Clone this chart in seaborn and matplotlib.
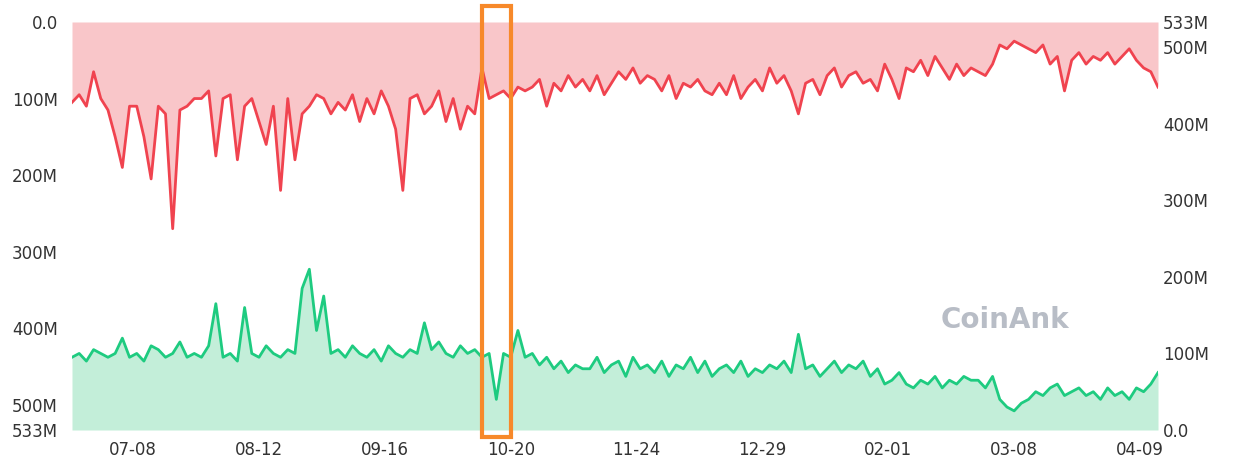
import matplotlib
matplotlib.use("Agg")
import matplotlib.pyplot as plt
import seaborn as sns
import numpy as np
import pandas as pd
from matplotlib.patches import Rectangle
import matplotlib.transforms as mtransforms

tick_labels = ["07-08","08-12","09-16","10-20","11-24","12-29","02-01","03-08","04-09"]
tick_days = [17,52,87,122,157,192,227,262,297]

red_vals = [105,95,110,65,100,115,150,190,110,
110,150,205,110,120,270,115,110,100,
100,90,175,100,95,180,110,100,130,
160,110,220,100,180,120,110,95,100,
120,105,115,95,130,100,120,90,110,
140,220,100,95,120,110,90,130,100,
140,110,120,60,100,95,90,100,85,
90,85,75,110,80,90,70,85,75,
90,70,95,80,65,75,60,80,70,
75,90,70,100,80,85,75,90,95,
80,95,70,100,85,75,90,60,80,
70,90,120,80,75,95,70,60,85,
70,65,80,75,90,55,75,100,60,
65,50,70,45,60,75,55,70,60,
65,70,55,30,35,25,30,35,40,
30,55,45,90,50,40,55,45,50,
40,55,45,35,50,60,65,85]
green_vals = [95,100,90,105,100,95,100,120,95,
100,90,110,105,95,100,115,95,100,
95,110,165,95,100,90,160,100,95,
110,100,95,105,100,185,210,130,175,
100,105,95,110,100,95,105,90,110,
100,95,105,100,140,105,115,100,95,
110,100,105,95,100,40,100,95,130,
95,100,85,95,80,90,75,85,80,
80,95,75,85,90,70,95,80,85,
75,90,70,85,80,95,75,90,70,
80,85,75,90,70,80,75,85,80,
90,75,125,80,85,70,80,90,75,
85,80,90,70,80,60,65,75,60,
55,65,60,70,55,65,60,70,65,
65,55,70,40,30,25,35,40,50,
45,55,60,45,50,55,45,50,40,
55,45,50,40,55,50,60,75]
days = np.arange(len(red_vals)) * 2
df = pd.DataFrame({"day": days, "red": red_vals, "green": green_vals})

fig = plt.figure(figsize=(12.37, 4.76), dpi=100)
ax = fig.add_axes([72/1237, 46/476, 1086/1237, 408/476])
ax2 = ax.twinx()
YMAX = 533

ax.fill_between(df.day, 0, df.red, color="#f9c6c9", lw=0)
sns.lineplot(data=df, x="day", y="red", ax=ax, color="#f0434f", lw=2)
ax.set_ylim(YMAX, 0)
ax2.fill_between(df.day, 0, df.green, color="#c3eed9", lw=0)
sns.lineplot(data=df, x="day", y="green", ax=ax2, color="#1ecb80", lw=2)
ax2.set_ylim(0, YMAX)
ax.set_xlim(0, df.day.max())

lt = [0,100,200,300,400,500,533]
ll = ["0.0","100M","200M","300M","400M","500M","533M"]
ax.set_yticks(lt); ax.set_yticklabels(ll)
ax2.set_yticks(lt); ax2.set_yticklabels(ll)
ax.set_xticks(tick_days); ax.set_xticklabels(tick_labels)
for a in (ax, ax2):
    for s in a.spines.values():
        s.set_visible(False)
    a.tick_params(length=0, labelsize=12, colors="#333333")
    a.set_xlabel(""); a.set_ylabel("")
ax.tick_params(axis="y", pad=10)
ax.tick_params(axis="x", pad=8)

ax2.text(0.8, 0.27, "CoinAnk", transform=ax.transAxes, fontsize=20,
         color="#b8bdc6", fontweight="bold", ha="left", va="center")
trans = mtransforms.blended_transform_factory(ax.transData, ax.transAxes)
ax2.add_patch(Rectangle((114, -0.017), 8, 1.057, transform=trans, fill=False,
                        edgecolor="#f7892a", lw=3, clip_on=False, zorder=10))
fig.savefig("out.png", dpi=100)
